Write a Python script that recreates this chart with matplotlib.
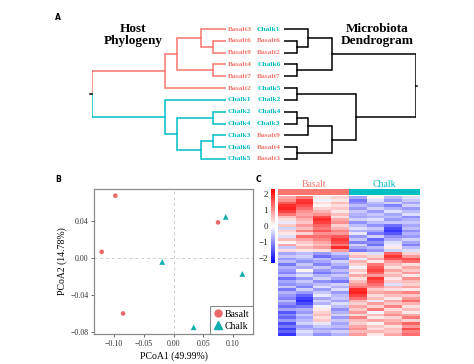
import matplotlib
matplotlib.use("Agg")
import matplotlib.pyplot as plt
import numpy as np
from matplotlib.colors import LinearSegmentedColormap, ListedColormap
from matplotlib.lines import Line2D

# ---------------- data ----------------
host_leaves = ["Basalt3", "Basalt6", "Basalt9", "Basalt4", "Basalt7", "Basalt2",
               "Chalk1", "Chalk2", "Chalk4", "Chalk3", "Chalk6", "Chalk5"]
# nested (height, left, right) tuples, heights relative to root = 1
host_tree = (1.0,
             (0.455,
              (0.366,
               (0.187, "Basalt3", (0.097, "Basalt6", "Basalt9")),
               (0.097, "Basalt4", "Basalt7")),
              "Basalt2"),
             (0.455,
              "Chalk1",
              (0.366,
               (0.097, "Chalk2", "Chalk4"),
               (0.187, (0.097, "Chalk3", "Chalk6"), "Chalk5"))))

micro_leaves = ["Chalk1", "Basalt6", "Basalt2", "Chalk6", "Basalt7", "Chalk5",
                "Chalk2", "Chalk4", "Chalk3", "Basalt9", "Basalt4", "Basalt3"]
micro_tree = (1.0,
              (0.364,
               (0.182, "Chalk1", (0.098, "Basalt6", "Basalt2")),
               (0.098, "Chalk6", "Basalt7")),
              (0.545,
               (0.098, "Chalk5", "Chalk2"),
               (0.364,
                (0.182, (0.098, "Chalk4", "Chalk3"), "Basalt9"),
                (0.098, "Basalt4", "Basalt3"))))

basalt_pc1 = [-0.098, -0.121, -0.085, 0.075]
basalt_pc2 = [0.068, 0.007, -0.060, 0.039]
chalk_pc1 = [0.088, -0.019, 0.116, 0.034]
chalk_pc2 = [0.045, -0.004, -0.017, -0.075]

x_ticks = [-0.10, -0.05, 0.00, 0.05, 0.10]
y_ticks = [-0.08, -0.04, 0.00, 0.04]
cbar_ticks = [-2, -1, 0, 1, 2]

heat_groups = ["Basalt", "Basalt", "Basalt", "Basalt", "Chalk", "Chalk", "Chalk", "Chalk"]
heat_values = [
    [0.8, 1.2, 0.2, 0.4, -0.8, 0.1, -0.6, -0.3],
    [1.0, 1.8, -0.1, 0.2, -1.2, -0.3, -0.9, -0.5],
    [1.5, 1.9, 0.3, 0.6, -1.0, -0.6, -0.4, -0.8],
    [1.9, 1.6, 0.1, 0.3, -0.6, -0.8, -1.1, -0.4],
    [2.0, 1.3, 0.4, 0.5, -0.9, -0.4, -0.7, -0.9],
    [1.7, 1.0, 0.7, 0.2, -0.5, -0.9, -0.3, -0.6],
    [1.2, 0.8, 1.0, 0.6, -0.7, -0.5, -0.8, -0.3],
    [0.6, 1.0, 1.6, 0.3, -0.8, -0.7, -0.6, -1.0],
    [0.3, 0.7, 1.9, 0.8, -0.4, -0.3, -0.9, -0.7],
    [-0.2, 0.5, 1.7, 1.0, -1.0, -0.6, -0.5, -0.5],
    [0.5, 0.9, 1.4, 0.4, -0.6, -1.0, -1.3, -0.8],
    [-0.4, 0.6, 1.2, 0.7, -0.3, -0.5, -1.6, -0.6],
    [0.4, 1.1, 1.5, 1.1, -0.7, -0.8, -1.8, -1.0],
    [0.2, 0.4, 1.0, 0.9, -0.2, -1.2, -1.5, -0.7],
    [-0.3, 1.3, 1.3, 1.5, -0.9, -0.4, -1.0, -0.9],
    [0.6, 0.8, 1.1, 1.8, -0.5, -1.4, -0.7, -0.4],
    [0.1, 0.5, 0.8, 1.6, -1.1, -1.0, -0.3, -0.8],
    [0.8, 0.3, 0.6, 1.2, -0.4, -1.3, -0.2, -1.1],
    [-0.5, 0.7, 0.9, 1.9, -0.8, -0.6, 0.2, -0.6],
    [0.3, 0.2, 0.3, 0.9, -1.2, -0.9, -0.4, -0.3],
    [-0.8, -0.6, -0.9, -0.5, 0.3, -0.3, 1.4, 0.4],
    [-0.5, -0.4, -1.3, -0.9, 0.6, 0.4, 1.8, 0.9],
    [-0.9, -0.7, -0.6, -1.1, -0.2, 0.8, 1.5, 1.6],
    [-0.6, -1.0, -0.8, -0.4, 0.7, 0.2, 0.9, 1.3],
    [-1.2, -0.5, -1.1, -0.7, 0.4, 1.2, 0.6, 0.3],
    [-0.7, -0.8, -0.5, -1.0, -0.1, 1.5, 0.3, 0.8],
    [-0.9, 0.1, -0.9, -0.6, 0.5, 1.7, 0.8, 0.5],
    [-1.1, -0.6, -1.2, -0.9, 0.2, 1.4, 0.4, 0.9],
    [-0.6, -0.3, -0.7, -0.5, 0.8, 0.9, 0.7, 0.2],
    [-1.3, -0.9, -0.4, -0.8, 0.3, 1.8, 0.2, 1.0],
    [-0.8, -0.5, -1.0, -1.2, 0.6, 1.6, 0.5, 0.6],
    [-1.0, -0.8, -0.6, -0.4, 0.9, 1.3, -0.3, 0.4],
    [-0.5, -1.1, -0.3, -0.7, 1.2, 1.0, 0.6, 0.8],
    [-1.2, -0.4, -0.9, -0.3, 1.9, 0.5, 0.3, 0.2],
    [-0.7, -0.9, -0.5, -0.9, 2.0, 0.8, 0.9, 1.1],
    [-0.9, -1.4, -0.2, -0.6, 1.7, 0.3, 0.6, 0.5],
    [-1.1, -1.7, -0.8, -0.5, 1.3, 0.6, 0.2, 0.9],
    [-0.6, -1.9, -0.4, -0.8, 0.7, -0.2, 0.8, 1.3],
    [-1.0, -1.6, -0.7, -0.3, 0.4, 0.9, 0.5, 0.7],
    [-1.3, -1.2, -0.1, -0.6, 0.8, 0.4, 1.1, 0.3],
    [-0.8, -0.7, 0.2, -1.0, 0.5, 1.2, 0.3, 0.6],
    [-1.5, -0.9, 0.4, -0.7, 0.9, -0.1, 0.7, 0.2],
    [-1.1, -0.5, 0.6, -0.4, 0.3, 0.6, 1.0, 0.8],
    [-1.4, -0.8, 0.3, -0.9, 1.1, 0.2, 0.4, 1.2],
    [-0.9, -0.6, 0.5, -0.5, 0.6, 0.8, 0.7, 0.4],
    [-1.6, -0.4, -0.2, -0.8, 0.4, 0.1, 0.9, 1.4],
    [-1.2, -0.9, -0.5, -0.6, 0.8, 0.5, 0.3, 0.9],
    [-1.7, -0.7, -0.8, -0.9, 1.0, 0.3, 0.6, 1.6],
    [-1.4, -0.3, -0.6, -0.4, 0.6, 0.7, 0.5, 1.1],
    [-1.8, -0.5, -1.0, -0.7, 0.9, 0.2, 0.8, 1.3],
]

# ---------------- style ----------------
RED = "#F8766D"
TEAL = "#00BFC4"
SERIF = ["Liberation Serif", "DejaVu Serif"]
plt.rcParams["font.family"] = SERIF

W, H = 474, 364
fig = plt.figure(figsize=(W / 100, H / 100), dpi=100)


def ax_px(l, t, r, b):
    return fig.add_axes([l / W, 1 - b / H, (r - l) / W, (b - t) / H])


def group_color(name):
    return RED if name.startswith("Basalt") else TEAL


def leaves_of(t):
    if isinstance(t, str):
        return [t]
    return leaves_of(t[1]) + leaves_of(t[2])


def draw_tree(ax, t, order, colored, lw=1.1):
    if isinstance(t, str):
        return order.index(t), 0.0, group_color(t)
    h, a, b = t
    ya, ha, ca = draw_tree(ax, a, order, colored, lw)
    yb, hb, cb = draw_tree(ax, b, order, colored, lw)
    if not colored:
        ca = cb = "black"
    ym = (ya + yb) / 2
    ax.plot([ha, h], [ya, ya], color=ca, lw=lw, solid_capstyle="butt")
    ax.plot([hb, h], [yb, yb], color=cb, lw=lw, solid_capstyle="butt")
    ax.plot([h, h], [ya, ym], color=ca, lw=lw, solid_capstyle="projecting")
    ax.plot([h, h], [ym, yb], color=cb, lw=lw, solid_capstyle="projecting")
    grp = {group_color(n) for n in leaves_of(t)}
    col = grp.pop() if (colored and len(grp) == 1) else "black"
    return ym, h, col


# ---------------- panel A ----------------
n = len(host_leaves)
ax_host = ax_px(92, 23.1, 226, 164.9)
ax_host.set_xlim(1.0, 0.0)
ax_host.set_ylim(n - 0.5, -0.5)
ax_host.axis("off")
ym, hr, _ = draw_tree(ax_host, host_tree, host_leaves, True)
ax_host.plot([hr, hr + 0.012], [ym, ym], color="black", lw=1.1, clip_on=False)
for i, name in enumerate(host_leaves):
    ax_host.annotate(name, (0, i), xytext=(1.2, 0), textcoords="offset points",
                     ha="left", va="center", fontsize=5.4, fontweight="bold",
                     color=group_color(name), annotation_clip=False)

ax_mic = ax_px(284, 23.1, 416, 164.9)
ax_mic.set_xlim(0.0, 1.0)
ax_mic.set_ylim(n - 0.5, -0.5)
ax_mic.axis("off")
ym, hr, _ = draw_tree(ax_mic, micro_tree, micro_leaves, False)
ax_mic.plot([hr, hr + 0.01], [ym, ym], color="black", lw=1.1, clip_on=False)
for i, name in enumerate(micro_leaves):
    ax_mic.annotate(name, (0, i), xytext=(-2.5, 0), textcoords="offset points",
                    ha="right", va="center", fontsize=5.4, fontweight="bold",
                    color=group_color(name), annotation_clip=False)

fig.text(133 / W, 1 - 35 / H, "Host\nPhylogeny", ha="center", va="center",
         fontsize=9.5, fontweight="bold", linespacing=1.05)
fig.text(377 / W, 1 - 35 / H, "Microbiota\nDendrogram", ha="center", va="center",
         fontsize=9.5, fontweight="bold", linespacing=1.05)

# panel letters
for lab, x, y in [("A", 58, 18), ("B", 58, 180), ("C", 258, 180)]:
    fig.text(x / W, 1 - y / H, lab, ha="center", va="center", fontsize=5.5,
             fontweight="bold", family="DejaVu Sans")

# ---------------- panel B ----------------
ax_b = ax_px(94, 189, 253, 334)
ax_b.set_xlim(-0.134, 0.134)
ax_b.set_ylim(-0.0823, 0.0753)
ax_b.axvline(0, color="#cccccc", lw=0.7, ls=(0, (3, 3)), zorder=0)
ax_b.axhline(0, color="#cccccc", lw=0.7, ls=(0, (3, 3)), zorder=0)
ax_b.scatter(basalt_pc1, basalt_pc2, s=11, color="#E9686A", marker="o",
             edgecolors="none", zorder=3)
ax_b.scatter(chalk_pc1, chalk_pc2, s=17, color="#12ADAD", marker="^",
             edgecolors="none", zorder=3)
ax_b.set_xticks(x_ticks)
ax_b.set_xticklabels([f"{v:.2f}".replace("-", "\u2212") for v in x_ticks])
ax_b.set_yticks(y_ticks)
ax_b.set_yticklabels([f"{v:.2f}".replace("-", "\u2212") for v in y_ticks])
ax_b.tick_params(labelsize=5.7, length=2, width=0.6, color="#555555",
                 labelcolor="#333333", pad=2)
for sp in ax_b.spines.values():
    sp.set_color("#8a8a8a")
    sp.set_linewidth(0.9)
ax_b.set_xlabel("PCoA1 (49.99%)", fontsize=7, labelpad=3)
ax_b.set_ylabel("PCoA2 (14.78%)", fontsize=7, labelpad=2)
handles = [Line2D([], [], marker="o", ls="", color="#E9686A", markersize=5),
           Line2D([], [], marker="^", ls="", color="#12ADAD", markersize=6)]
leg = ax_b.legend(handles, ["Basalt", "Chalk"], loc="lower right",
                  borderaxespad=0, fontsize=7, fancybox=False,
                  handletextpad=0.2, handlelength=1.0, borderpad=0.35,
                  labelspacing=0.3, framealpha=1)
leg.get_frame().set_edgecolor("#8a8a8a")
leg.get_frame().set_linewidth(0.8)

# ---------------- panel C ----------------
cmap = LinearSegmentedColormap.from_list("bwr2", ["#0000FF", "#FFFFFF", "#FF0000"])
mat = np.array(heat_values)
ax_h = ax_px(278.3, 196, 420, 335.7)
im = ax_h.imshow(mat, aspect="auto", cmap=cmap, vmin=-2.3, vmax=2.3,
                 interpolation="nearest")
ax_h.axis("off")

ax_ann = ax_px(278.3, 189.3, 420, 194.7)
grp_idx = [[0 if g == "Basalt" else 1 for g in heat_groups]]
ax_ann.imshow(grp_idx, aspect="auto", cmap=ListedColormap([RED, TEAL]),
              vmin=0, vmax=1, interpolation="nearest")
ax_ann.axis("off")
for gname, col in [("Basalt", RED), ("Chalk", TEAL)]:
    idx = [i for i, g in enumerate(heat_groups) if g == gname]
    ax_ann.text(np.mean(idx), -0.5, gname, ha="center", va="bottom",
                fontsize=7, color=col, transform=ax_ann.transData)

cax = ax_px(270.7, 189.3, 275, 262.7)
cb = fig.colorbar(im, cax=cax, ticks=cbar_ticks)
cb.outline.set_visible(False)
cax.yaxis.set_ticks_position("left")
cax.set_yticklabels([str(t).replace("-", "\u2212") for t in cbar_ticks])
cax.tick_params(length=0, labelsize=6.5, pad=2, labelcolor="#222222")

fig.savefig("out.png", dpi=100)
